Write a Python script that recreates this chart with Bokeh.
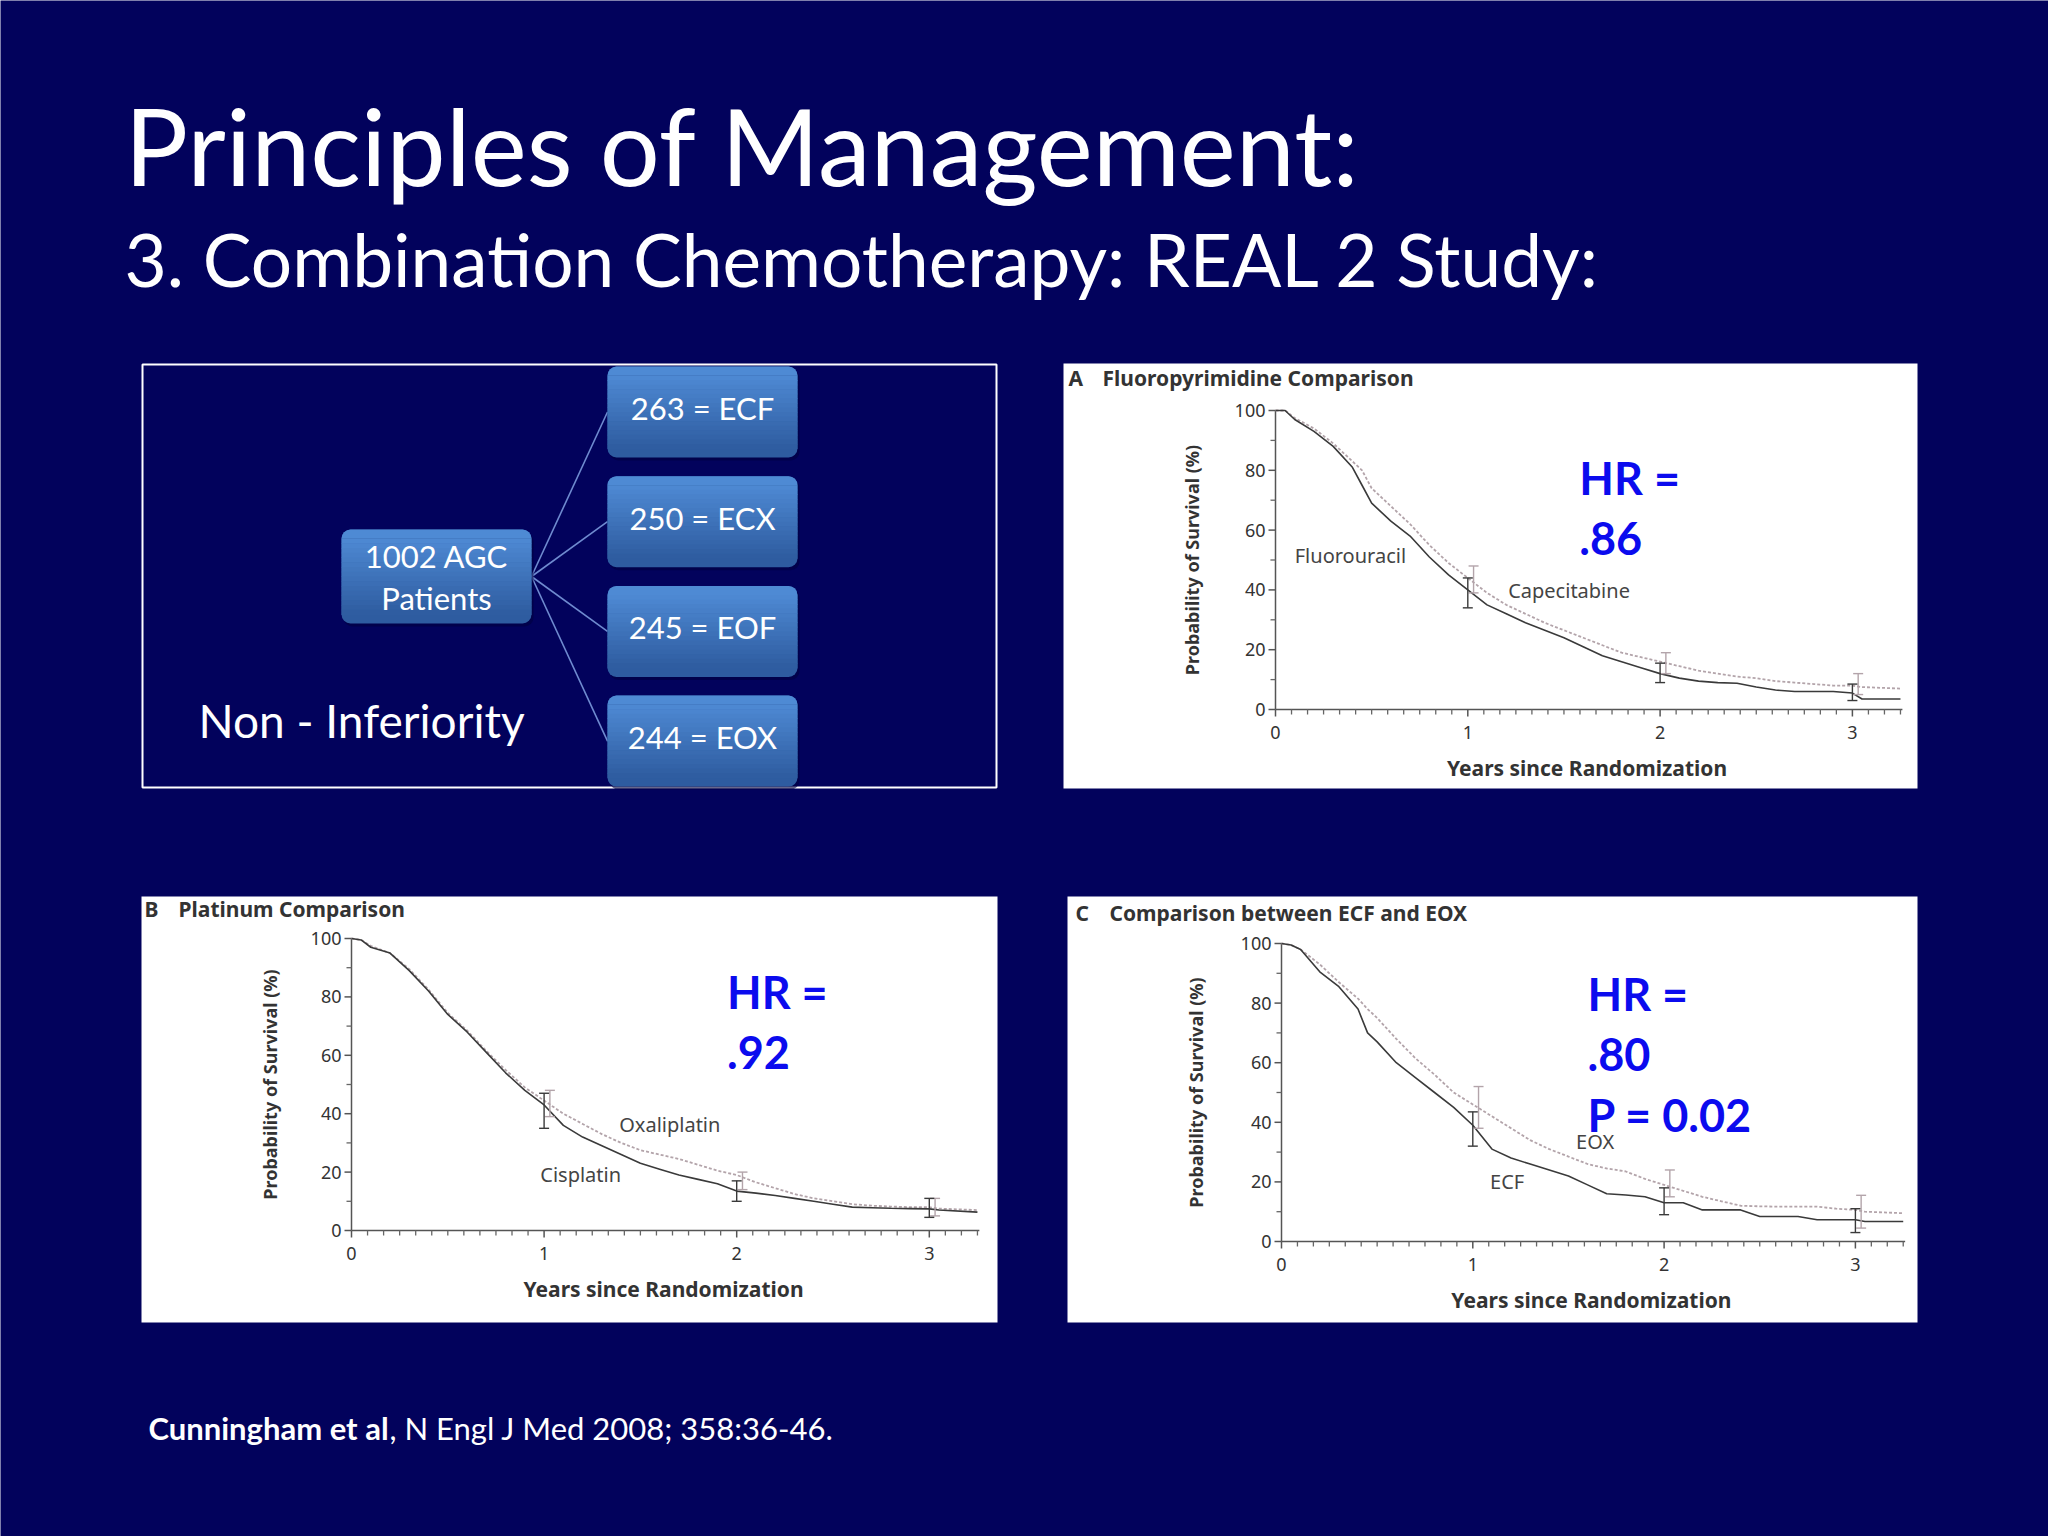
from math import pi
from bokeh.plotting import figure
from bokeh.models import Range1d
from bokeh.core.properties import value
from bokeh.embed import file_html
from bokeh.resources import INLINE

# ------------------------------------------------------------------ data
title_text = "Principles of Management:"
subtitle_text = "3. Combination Chemotherapy: REAL 2 Study:"
total_patients = 1002
arms = ["ECF", "ECX", "EOF", "EOX"]
arm_n = [263, 250, 245, 244]
design_text = "Non - Inferiority"
citation_bold = "Cunningham et al"
citation_rest = ", N Engl J Med 2008; 358:36-46."

years = [0, 0.05, 0.1, 0.2, 0.3, 0.4, 0.45, 0.5, 0.6, 0.7, 0.8, 0.9, 1.0, 1.1, 1.2,
         1.3, 1.4, 1.5, 1.6, 1.7, 1.8, 1.9, 2.0, 2.1, 2.2, 2.3, 2.4, 2.5, 2.6, 2.7,
         2.8, 2.9, 3.0, 3.05, 3.25]

# Panel A: fluoropyrimidine comparison (survival %)
fluorouracil = [100, 100, 97, 93, 88, 81, 75, 69, 63, 58, 51, 45, 40, 35, 32, 29, 26.5, 24,
                21, 18, 16, 14, 12, 10.5, 9.5, 9, 8.8, 7.5, 6.5, 6, 6, 6, 5.5, 3.5, 3.5]
capecitabine = [100, 100, 97.5, 94, 89, 83, 80, 74, 68, 62, 55, 49, 44, 39, 35, 32, 29, 26.5,
                24, 21.5, 19, 17.5, 16, 14.5, 13, 12, 11, 10.5, 9.5, 9, 8.5, 8, 8, 7.5, 7]
# Panel B: platinum comparison
cisplatin = [100, 99.5, 97, 95, 89, 82, 78, 74, 68, 61, 54, 48, 43, 36, 32, 29, 26, 23, 21,
             19, 17.5, 16, 13.5, 12.8, 12, 11, 10, 9, 8, 7.8, 7.6, 7.5, 7.4, 7, 6.3]
oxaliplatin = [100, 99.5, 97.5, 95, 89.5, 82.5, 78.5, 74.5, 68.5, 61.5, 55, 49, 44.5, 40, 36.5,
               33, 30, 27.5, 26, 24.5, 22.5, 20.5, 19, 16.5, 14.5, 12.5, 11, 10, 9, 8.5, 8.2,
               8, 8, 7.5, 7]
# Panel C: ECF vs EOX
ecf = [100, 99.5, 98, 90.5, 85.5, 78, 70, 67, 60, 55, 50, 45, 39, 31, 28, 26, 24, 22, 19, 16,
       15.6, 15, 13, 13, 10.6, 10.6, 10.6, 8.4, 8.4, 8.4, 7.3, 7.3, 7.3, 6.7, 6.7]
eox = [100, 99.5, 98, 93, 87, 81.5, 78, 75, 68, 61.5, 56, 50, 46, 42, 38, 34, 31, 28.5, 26,
       24.5, 23.5, 21, 19, 17, 15, 13.5, 12, 11.8, 11.7, 11.7, 11.7, 11, 10.6, 10, 9.5]

# 95% confidence intervals: (low, high) at the times below
ci_solid_t = [1.0, 2.0, 3.0]
ci_dotted_t = [1.03, 2.03, 3.03]
ci_fluorouracil = ([34, 9, 3], [44, 15.5, 8.5])
ci_capecitabine = ([39, 12, 5], [48, 19, 12])
ci_cisplatin = ([35, 10, 4.5], [47, 17, 11])
ci_oxaliplatin = ([39, 14, 5], [48, 20, 11])
ci_ecf = ([32, 9, 3], [43.5, 18, 11])
ci_eox = ([38, 15, 4.5], [52, 24, 15.5])

x_major = [0, 1, 2, 3]
x_minor_per_year = 12
y_major = [0, 20, 40, 60, 80, 100]
y_minor = [10, 30, 50, 70, 90]
x_label = "Years since Randomization"
y_label = "Probability of Survival (%)"

hr_a = ["HR =", ".86"]
hr_b = ["HR =", ".92"]
hr_c = ["HR =", ".80", "P = 0.02"]

# ------------------------------------------------------------------ style
NAVY = "#02025C"
HR_BLUE = "#0B0BEE"
SLIDE_FONT = "Lato"
KM_FONT = "Noto Sans"
SOLID = "#3a3a3a"
DOTTED = "#b3a4aa"
AXIS = "#555555"
KM_TEXT = "#333333"
W, H = 2048, 1536


def P(py):
    """page pixel row (top-down) -> figure y (bottom-up)"""
    return H - py


p = figure(width=W, height=H, x_range=Range1d(0, W), y_range=Range1d(0, H),
           x_axis_type=None, y_axis_type=None, output_backend="svg",
           toolbar_location=None, min_border=0)
p.outline_line_color = None
p.background_fill_color = NAVY
p.border_fill_color = NAVY

# ------------------------------------------------------------------ title
p.text(x=[124], y=[P(144)], text=[title_text], text_font=value(SLIDE_FONT),
       text_font_size="106px", text_color="white", text_baseline="middle")
p.text(x=[124], y=[P(258)], text=[subtitle_text], text_font=value(SLIDE_FONT),
       text_font_size="73px", text_color="white", text_baseline="middle")

# ------------------------------------------------------------------ flowchart
p.quad(left=[142], right=[996], top=[P(364)], bottom=[P(787)], fill_color=None,
       line_color="white", line_width=2)


def grad_box(l, r, t, b, rad=9, n=16):
    c_top = (78, 138, 212)
    c_bot = (46, 92, 160)

    def mix(f):
        return "#%02x%02x%02x" % tuple(int(c_top[k] + (c_bot[k] - c_top[k]) * f) for k in range(3))

    p.quad(left=[l + 2], right=[r + 2], top=[P(t + 3)], bottom=[P(b + 3)],
           fill_color="#010140", fill_alpha=0.6, line_color=None, border_radius=rad)
    p.quad(left=[l], right=[r], top=[P(t)], bottom=[P(b)], fill_color=mix(1.0),
           line_color=None, border_radius=rad)
    p.quad(left=[l], right=[r], top=[P(t)], bottom=[P(t + rad)], fill_color=mix(0.0),
           line_color=None, border_radius=(rad, rad, 0, 0))
    h = (b - rad) - (t + rad)
    tops, bots, cols = [], [], []
    for i in range(n):
        tops.append(P(t + rad + h * i / n))
        bots.append(P(t + rad + h * (i + 1) / n) - 0.6)
        cols.append(mix((i + 0.5) / n))
    p.quad(left=l, right=r, top=tops, bottom=bots, fill_color=cols, line_color=None)


hub_x, hub_y = 531, 576
box_l, box_r = 607, 797
box_h = 91
box_tops = [366 + i * 109.7 for i in range(len(arms))]

p.segment(x0=[hub_x] * len(arms), y0=[P(hub_y)] * len(arms), x1=[box_l] * len(arms),
          y1=[P(t + box_h / 2) for t in box_tops], line_color="#6f8bd0", line_width=1.6)

grad_box(341, 531, 529, 623)
p.text(x=[436, 436], y=[P(555), P(597)], text=[f"{total_patients} AGC", "Patients"],
       text_font=value(SLIDE_FONT), text_font_size="31px", text_color="white",
       text_align="center", text_baseline="middle")

for t in box_tops:
    grad_box(box_l, box_r, t, t + box_h)
p.text(x=[(box_l + box_r) / 2] * len(arms), y=[P(t + box_h / 2 - 4) for t in box_tops],
       text=[f"{n} = {a}" for n, a in zip(arm_n, arms)], text_font=value(SLIDE_FONT),
       text_font_size="31px", text_color="white", text_align="center",
       text_baseline="middle")

p.text(x=[198], y=[P(720)], text=[design_text], text_font=value(SLIDE_FONT),
       text_font_size="46px", text_color="white", text_baseline="middle")


# ------------------------------------------------------------------ KM panels
def km_panel(rect, x0, px_per_year, y0_page, y100_page, letter, title, title_pos,
             solid, dotted, ci_s, ci_d, labels, hr_lines, hr_pos, hr_step, ylab_off):
    l, t, r, b = rect
    p.quad(left=[l], right=[r], top=[P(t)], bottom=[P(b)], fill_color="white",
           line_color=None)
    xmax = 3.26
    xy = p.subplot(x_source=Range1d(0, xmax), y_source=Range1d(0, 100),
                   x_target=Range1d(x0, x0 + xmax * px_per_year),
                   y_target=Range1d(P(y0_page), P(y100_page)))

    # axes
    xy.segment(x0=[0, 0], y0=[0, 0], x1=[xmax, 0], y1=[0, 100], line_color=AXIS,
               line_width=1.5)
    xy.ray(x=x_major, y=[0] * len(x_major), length=7, length_units="screen",
           angle=-pi / 2, line_color=AXIS, line_width=1.5)
    x_minor = [i / x_minor_per_year for i in range(1, int(xmax * x_minor_per_year) + 1)
               if i % x_minor_per_year]
    xy.ray(x=x_minor, y=[0] * len(x_minor), length=5, length_units="screen",
           angle=-pi / 2, line_color="#666666", line_width=1.3)
    xy.ray(x=[0] * len(y_major), y=y_major, length=7, length_units="screen",
           angle=pi, line_color=AXIS, line_width=1.5)
    xy.ray(x=[0] * len(y_minor), y=y_minor, length=5, length_units="screen",
           angle=pi, line_color="#666666", line_width=1.3)
    xy.text(x=x_major, y=[0] * len(x_major), text=[str(v) for v in x_major], y_offset=23,
            text_font=value(KM_FONT), text_font_size="18px", text_color=KM_TEXT,
            text_align="center", text_baseline="middle")
    xy.text(x=[0] * len(y_major), y=y_major, text=[str(v) for v in y_major], x_offset=-10,
            text_font=value(KM_FONT), text_font_size="18px", text_color=KM_TEXT,
            text_align="right", text_baseline="middle")
    xy.text(x=[1.62], y=[0], text=[x_label], y_offset=58, text_font=value(KM_FONT),
            text_font_style="bold", text_font_size="21px", text_color=KM_TEXT,
            text_align="center", text_baseline="middle")
    xy.text(x=[0], y=[50], text=[y_label], x_offset=-ylab_off, angle=pi / 2,
            text_font=value(KM_FONT), text_font_style="bold", text_font_size="18px",
            text_color=KM_TEXT, text_align="center", text_baseline="middle")

    # curves
    xy.line(years, dotted, line_color=DOTTED, line_width=1.8, line_dash="3 2")
    xy.line(years, solid, line_color=SOLID, line_width=1.6)

    # confidence intervals
    for tt, ci, col in ((ci_dotted_t, ci_d, DOTTED), (ci_solid_t, ci_s, SOLID)):
        xy.segment(x0=tt, y0=ci[0], x1=tt, y1=ci[1], line_color=col, line_width=1.4)
        xy.scatter(x=tt + tt, y=ci[0] + ci[1], marker="dash", size=10, line_color=col,
                   line_width=1.4)

    # curve labels
    for (lx, ly, lt) in labels:
        xy.text(x=[lx], y=[ly], text=[lt], text_font=value(KM_FONT), text_font_size="20px",
                text_color="#444444", text_baseline="middle")

    # hazard ratio annotation
    xy.text(x=[hr_pos[0]] * len(hr_lines),
            y=[hr_pos[1] - i * hr_step for i in range(len(hr_lines))],
            text=hr_lines, text_font=value(SLIDE_FONT), text_font_style="bold",
            text_font_size="45px", text_color=HR_BLUE, text_baseline="middle")

    # panel heading
    tx, ty = title_pos
    p.text(x=[tx], y=[P(ty)], text=[letter], text_font=value(KM_FONT),
           text_font_style="bold", text_font_size="21px", text_color="#333333",
           text_baseline="middle")
    p.text(x=[tx + 34], y=[P(ty)], text=[title], text_font=value(KM_FONT),
           text_font_style="bold", text_font_size="21px", text_color="#333333",
           text_baseline="middle")


km_panel((1063, 363, 1917, 788), 1275, 192.3, 709, 410, "A", "Fluoropyrimidine Comparison",
         (1068, 377), fluorouracil, capecitabine, ci_fluorouracil, ci_capecitabine,
         [(0.1, 51.5, "Fluorouracil"), (1.21, 39.8, "Capecitabine")],
         hr_a, (1.58, 77.3), 20.2, 84)
km_panel((141, 896, 997, 1322), 351, 192.6, 1230, 938, "B", "Platinum Comparison",
         (144, 908), cisplatin, oxaliplatin, ci_cisplatin, ci_oxaliplatin,
         [(1.39, 36.3, "Oxaliplatin"), (0.98, 19.2, "Cisplatin")],
         hr_b, (1.95, 81.8), 21.0, 82)
km_panel((1067, 896, 1917, 1322), 1281, 191.3, 1241, 943, "C",
         "Comparison between ECF and EOX", (1075, 912), ecf, eox, ci_ecf, ci_eox,
         [(1.54, 33.7, "EOX"), (1.09, 20.3, "ECF")],
         hr_c, (1.60, 82.9), 20.3, 86)

# ------------------------------------------------------------------ citation
p.text(x=[148], y=[P(1427)], text=[citation_bold], text_font=value(SLIDE_FONT),
       text_font_style="bold", text_font_size="31px", text_color="white",
       text_baseline="middle")
p.text(x=[389], y=[P(1427)], text=[citation_rest], text_font=value(SLIDE_FONT),
       text_font_size="31px", text_color="white", text_baseline="middle")

open("out.html", "w").write(file_html(p, INLINE))
